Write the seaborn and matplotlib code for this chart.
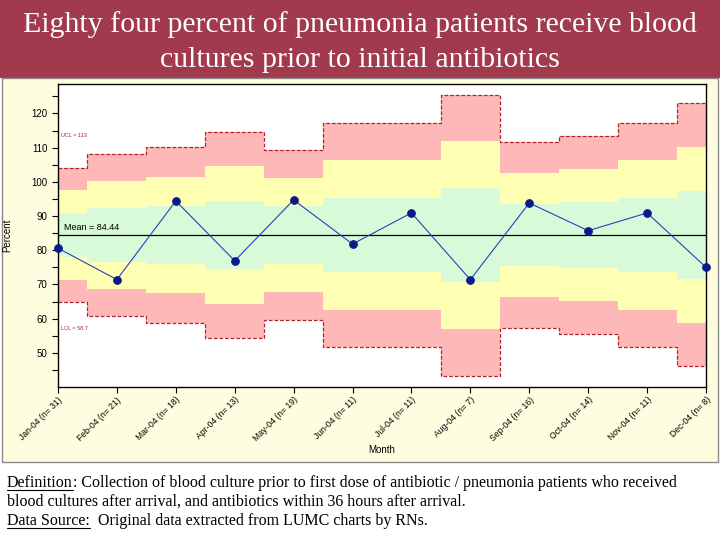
import matplotlib
matplotlib.use("Agg")
import matplotlib.pyplot as plt
import seaborn as sns
import pandas as pd
from matplotlib.patches import Rectangle
from matplotlib.lines import Line2D

# data
months = ["Jan-04", "Feb-04", "Mar-04", "Apr-04", "May-04", "Jun-04",
          "Jul-04", "Aug-04", "Sep-04", "Oct-04", "Nov-04", "Dec-04"]
n_patients = [31, 21, 18, 13, 19, 11, 11, 7, 16, 14, 11, 8]
percent = [80.6, 71.4, 94.4, 76.9, 94.7, 81.8, 90.9, 71.4, 93.8, 85.7, 90.9, 75.0]
mean_pct = 84.44

ucl = [104.0, 108.2, 110.1, 114.6, 109.4, 117.2, 117.2, 125.5, 111.6, 113.5, 117.2, 122.9]
sig2_hi = [97.5, 100.3, 101.5, 104.5, 101.1, 106.3, 106.3, 111.8, 102.6, 103.8, 106.3, 110.1]
sig1_hi = [91.0, 92.4, 93.0, 94.5, 92.8, 95.4, 95.4, 98.1, 93.5, 94.1, 95.4, 97.3]
sig1_lo = [77.9, 76.5, 75.9, 74.4, 76.1, 73.5, 73.5, 70.7, 75.4, 74.8, 73.5, 71.6]
sig2_lo = [71.4, 68.6, 67.4, 64.3, 67.8, 62.6, 62.6, 57.0, 66.3, 65.1, 62.6, 58.8]
lcl = [64.9, 60.7, 58.8, 54.3, 59.5, 51.7, 51.7, 43.3, 57.3, 55.4, 51.7, 46.0]

tick_labels = [f"{m} (n= {n})" for m, n in zip(months, n_patients)]

BANNER = "#a03a4c"
PANEL = "#fffde0"
RED_ZONE = "#ffb8b8"
YELLOW_ZONE = "#ffffb4"
GREEN_ZONE = "#d8fad8"
LIMIT = "#b3202e"

df = pd.DataFrame({"month": range(len(months)), "percent": percent})

sns.set_style("white")
plt.rcParams["font.family"] = ["Liberation Sans", "DejaVu Sans"]
for key in ["text.color", "axes.labelcolor", "xtick.color", "ytick.color"]:
    plt.rcParams[key] = "black"

fig = plt.figure(figsize=(7.2, 5.4), dpi=100)
fig.patch.set_facecolor("white")

# title banner and chart panel (behind the axes)
fig.patches.append(Rectangle((0, 1 - 78 / 540), 1, 78 / 540, transform=fig.transFigure,
                             facecolor=BANNER, edgecolor="none", zorder=-2))
fig.patches.append(Rectangle((0.003, 1 - 462 / 540), 0.994, 384 / 540, transform=fig.transFigure,
                             facecolor=PANEL, edgecolor="#8a8a8a", linewidth=1, zorder=-2))

fig.text(0.5, 1 - 42 / 540,
         "Eighty four percent of pneumonia patients receive blood\ncultures prior to initial antibiotics",
         ha="center", va="center", color="white", fontsize=21.5,
         family=["Liberation Serif", "DejaVu Serif"], linespacing=1.42)

ax = fig.add_axes([58 / 720, 1 - 387 / 540, 648 / 720, 303 / 540])
ax.set_zorder(1)
ax.set_facecolor("white")

x = list(df["month"])
ax.fill_between(x, sig2_hi, ucl, step="mid", color=RED_ZONE, lw=0)
ax.fill_between(x, sig1_hi, sig2_hi, step="mid", color=YELLOW_ZONE, lw=0)
ax.fill_between(x, sig1_lo, sig1_hi, step="mid", color=GREEN_ZONE, lw=0)
ax.fill_between(x, sig2_lo, sig1_lo, step="mid", color=YELLOW_ZONE, lw=0)
ax.fill_between(x, lcl, sig2_lo, step="mid", color=RED_ZONE, lw=0)
ax.step(x, ucl, where="mid", color=LIMIT, lw=0.9, ls=(0, (3, 1.5)))
ax.step(x, lcl, where="mid", color=LIMIT, lw=0.9, ls=(0, (3, 1.5)))

ax.axhline(mean_pct, color="black", lw=0.9)
ax.text(0.1, mean_pct + 0.8, f"Mean = {mean_pct:.2f}", fontsize=6.5, va="bottom")
ax.text(0.05, 113.5, "UCL = 113", fontsize=4, color=LIMIT, va="center")
ax.text(0.05, 57.0, "LCL = 58.7", fontsize=4, color=LIMIT, va="center")

sns.lineplot(data=df, x="month", y="percent", ax=ax, color="#2a3fbf", lw=0.8,
             marker="o", markersize=5.5, markerfacecolor="#0a1a8a",
             markeredgecolor="#0a1a8a", clip_on=False, zorder=5)

ax.set_xlim(0, 11)
ax.set_ylim(40, 128.6)
ax.set_yticks([50, 60, 70, 80, 90, 100, 110, 120])
ax.set_yticks(range(45, 130, 5), minor=True)
ax.set_xticks(x)
ax.set_xticklabels(tick_labels, rotation=45, ha="right", rotation_mode="anchor", fontsize=6.2)
ax.tick_params(axis="y", which="both", direction="out", length=4, width=0.8, left=True, labelsize=7)
ax.tick_params(axis="x", direction="out", length=4, width=0.8, bottom=True, pad=2)
ax.set_xlabel("Month", fontsize=7, labelpad=1)
ax.set_ylabel("Percent", fontsize=7, labelpad=14)
for s in ax.spines.values():
    s.set_color("black")
    s.set_linewidth(1.0)

# footnote with underlined headings
serif = ["Liberation Serif", "DejaVu Serif"]
foot = [
    ("Definition", ": Collection of blood culture prior to first dose of antibiotic / pneumonia patients who received", 483),
    (None, "blood cultures after arrival, and antibiotics within 36 hours after arrival.", 502),
    ("Data Source:", "  Original data extracted from LUMC charts by RNs.", 521),
]
fig.canvas.draw()
renderer = fig.canvas.get_renderer()
for head, rest, ypix in foot:
    xf = 7 / 720
    yf = 1 - ypix / 540
    if head:
        t = fig.text(xf, yf, head, fontsize=11.5, family=serif, va="center", color="black")
        bb = t.get_window_extent(renderer).transformed(fig.transFigure.inverted())
        fig.lines.append(Line2D([bb.x0, bb.x1], [bb.y0 + 0.001, bb.y0 + 0.001],
                                transform=fig.transFigure, color="black", lw=0.8))
        xf = bb.x1
    fig.text(xf, yf, rest, fontsize=11.5, family=serif, va="center", color="black")

fig.savefig("out.png", dpi=100)
